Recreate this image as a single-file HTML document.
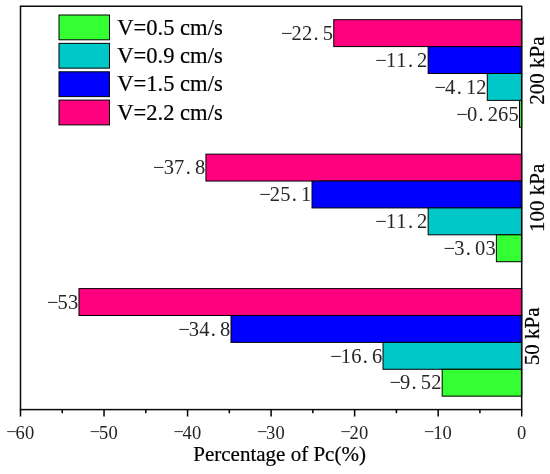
<!DOCTYPE html>
<html lang="en">
<head>
<meta charset="utf-8">
<title>Percentage of Pc</title>
<style>
html,body{margin:0;padding:0;background:#fff;}
svg{display:block;}
text{font-family:'Liberation Serif', 'Times New Roman', serif;fill:#000;}
.val{font-size:20.5px;fill:#262626;}
.tick{font-size:18.5px;fill:#222;}
.lbl{font-size:21px;text-anchor:middle;stroke:#000;stroke-width:0.2px;}
.leg{font-size:22.4px;stroke:#000;stroke-width:0.2px;}
</style>
</head>
<body>
<svg width="550" height="474" viewBox="0 0 550 474">
<rect x="0" y="0" width="550" height="474" fill="#ffffff"/>
<rect x="333.75" y="19.70" width="187.95" height="26.89" fill="#FF007F" stroke="#000" stroke-width="1"/>
<text class="val" x="280.9 291.5 301.9 313.5 322.8" y="39.84">−22.5</text>
<rect x="428.14" y="46.59" width="93.56" height="26.89" fill="#0000FF" stroke="#000" stroke-width="1"/>
<text class="val" x="375.3 385.9 396.3 407.9 417.1" y="66.73">−11.2</text>
<rect x="487.28" y="73.48" width="34.42" height="26.89" fill="#00C8C8" stroke="#000" stroke-width="1"/>
<text class="val" x="434.5 445.1 456.7 465.9 476.3" y="93.62">−4.12</text>
<rect x="519.49" y="100.37" width="2.21" height="26.89" fill="#33FF33" stroke="#000" stroke-width="1"/>
<text class="val" x="456.3 466.9 478.5 487.7 498.1 508.5" y="120.51">−0.265</text>
<text class="lbl" transform="translate(543.8,70.5) rotate(-90)">200 kPa</text>
<rect x="205.94" y="154.15" width="315.76" height="26.89" fill="#FF007F" stroke="#000" stroke-width="1"/>
<text class="val" x="153.1 163.7 174.1 185.7 194.9" y="174.29">−37.8</text>
<rect x="312.03" y="181.04" width="209.67" height="26.89" fill="#0000FF" stroke="#000" stroke-width="1"/>
<text class="val" x="259.2 269.8 280.2 291.8 301.0" y="201.18">−25.1</text>
<rect x="428.14" y="207.93" width="93.56" height="26.89" fill="#00C8C8" stroke="#000" stroke-width="1"/>
<text class="val" x="375.3 385.9 396.3 407.9 417.1" y="228.07">−11.2</text>
<rect x="496.39" y="234.82" width="25.31" height="26.89" fill="#33FF33" stroke="#000" stroke-width="1"/>
<text class="val" x="443.6 454.2 465.8 475.0 485.4" y="254.96">−3.03</text>
<text class="lbl" transform="translate(543.8,197.9) rotate(-90)">100 kPa</text>
<rect x="78.97" y="288.60" width="442.73" height="26.89" fill="#FF007F" stroke="#000" stroke-width="1"/>
<text class="val" x="47.0 57.6 68.0" y="308.74">−53</text>
<rect x="231.00" y="315.49" width="290.70" height="26.89" fill="#0000FF" stroke="#000" stroke-width="1"/>
<text class="val" x="178.2 188.8 199.2 210.8 220.0" y="335.63">−34.8</text>
<rect x="383.03" y="342.38" width="138.67" height="26.89" fill="#00C8C8" stroke="#000" stroke-width="1"/>
<text class="val" x="330.2 340.8 351.2 362.8 372.0" y="362.52">−16.6</text>
<rect x="442.18" y="369.27" width="79.52" height="26.89" fill="#33FF33" stroke="#000" stroke-width="1"/>
<text class="val" x="389.4 400.0 411.6 420.8 431.2" y="389.41">−9.52</text>
<text class="lbl" transform="translate(539.2,336.4) rotate(-90)">50 kPa</text>
<rect x="20.5" y="6.25" width="501.20" height="403.35" fill="none" stroke="#0a0a0a" stroke-width="1.5"/>
<path d="M20.50 409.6v7 M62.27 409.6v3.6 M104.03 409.6v7 M145.80 409.6v3.6 M187.57 409.6v7 M229.33 409.6v3.6 M271.10 409.6v7 M312.87 409.6v3.6 M354.63 409.6v7 M396.40 409.6v3.6 M438.17 409.6v7 M479.93 409.6v3.6 M521.70 409.6v7" stroke="#000" stroke-width="1.5" fill="none"/>
<text class="tick" x="6.3 15.5 24.9" y="439.3" dy="-1.3 1.3 0">−60</text>
<text class="tick" x="89.8 99.0 108.4" y="439.3" dy="-1.3 1.3 0">−50</text>
<text class="tick" x="173.4 182.6 192.0" y="439.3" dy="-1.3 1.3 0">−40</text>
<text class="tick" x="256.9 266.1 275.5" y="439.3" dy="-1.3 1.3 0">−30</text>
<text class="tick" x="340.4 349.6 359.0" y="439.3" dy="-1.3 1.3 0">−20</text>
<text class="tick" x="424.0 433.2 442.6" y="439.3" dy="-1.3 1.3 0">−10</text>
<text class="tick" x="517.1" y="439.3">0</text>
<text class="lbl" x="279.6" y="460.8">Percentage of Pc(%)</text>
<rect x="59" y="15.0" width="50.5" height="24.8" fill="#33FF33" stroke="#000" stroke-width="1"/>
<text class="leg" x="117.3" y="34.6" textLength="105.4" lengthAdjust="spacingAndGlyphs">V=0.5 cm/s</text>
<rect x="59" y="43.35" width="50.5" height="24.8" fill="#00C8C8" stroke="#000" stroke-width="1"/>
<text class="leg" x="117.3" y="63.0" textLength="105.4" lengthAdjust="spacingAndGlyphs">V=0.9 cm/s</text>
<rect x="59" y="71.8" width="50.5" height="24.8" fill="#0000FF" stroke="#000" stroke-width="1"/>
<text class="leg" x="117.3" y="91.4" textLength="105.4" lengthAdjust="spacingAndGlyphs">V=1.5 cm/s</text>
<rect x="59" y="100.1" width="50.5" height="24.8" fill="#FF007F" stroke="#000" stroke-width="1"/>
<text class="leg" x="117.3" y="119.7" textLength="105.4" lengthAdjust="spacingAndGlyphs">V=2.2 cm/s</text>
</svg>
</body>
</html>
